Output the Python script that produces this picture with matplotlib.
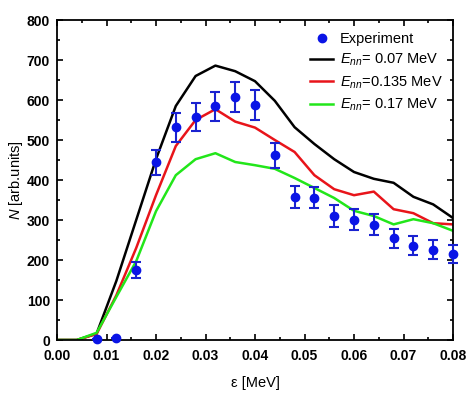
import matplotlib
matplotlib.use("Agg")
import matplotlib.pyplot as plt
from matplotlib.ticker import MultipleLocator, FormatStrFormatter
from matplotlib.lines import Line2D

plt.rcParams['font.family'] = ['Liberation Sans', 'DejaVu Sans']
plt.rcParams['mathtext.fontset'] = 'custom'
plt.rcParams['mathtext.it'] = 'Liberation Sans:italic'
plt.rcParams['mathtext.rm'] = 'Liberation Sans'

# Experimental data
exp_x = [0.008, 0.012, 0.016, 0.020, 0.024, 0.028, 0.032, 0.036, 0.040, 0.044,
         0.048, 0.052, 0.056, 0.060, 0.064, 0.068, 0.072, 0.076, 0.080]
exp_y = [2, 6, 175, 444, 532, 557, 584, 608, 587, 462,
         358, 356, 310, 301, 288, 254, 236, 226, 215]
exp_err = [0, 0, 21, 32, 36, 35, 36, 37, 37, 31,
           28, 27, 27, 27, 26, 23, 24, 23, 23]

# Model curves
model_x = [0.000, 0.004, 0.008, 0.012, 0.016, 0.020, 0.024, 0.028, 0.032, 0.036, 0.040,
           0.044, 0.048, 0.052, 0.056, 0.060, 0.064, 0.068, 0.072, 0.076, 0.080]
enn_007 = [0, 0, 16, 148, 300, 452, 585, 660, 686, 672, 647,
           598, 532, 490, 452, 420, 403, 393, 358, 339, 305]
enn_0135 = [0, 0, 15, 112, 230, 362, 485, 550, 577, 546, 531,
            500, 470, 412, 377, 362, 371, 327, 317, 292, 289]
enn_017 = [0, 0, 18, 108, 197, 322, 412, 452, 467, 445, 437,
           428, 405, 380, 355, 323, 310, 289, 302, 292, 273]

labels = ['Experiment', r'$E_{nn}$= 0.07 MeV', r'$E_{nn}$=0.135 MeV', r'$E_{nn}$= 0.17 MeV']

blue = '#0a14e6'
fig = plt.figure(figsize=(4.74, 3.93), dpi=100)
ax = fig.add_axes([57/474, 53/393, 396/474, 320/393])

ax.errorbar(exp_x, exp_y, yerr=exp_err, fmt='o', color=blue, ms=6,
            ecolor='#1a22d0', elinewidth=1.5, capsize=3.5, capthick=1.5,
            zorder=5, clip_on=False)
l1, = ax.plot(model_x, enn_007, color='black', lw=1.8)
l2, = ax.plot(model_x, enn_0135, color='#e8141a', lw=1.8)
l3, = ax.plot(model_x, enn_017, color='#22e61a', lw=1.8)

ax.set_xlim(0, 0.08)
ax.set_ylim(0, 800)
ax.xaxis.set_major_locator(MultipleLocator(0.01))
ax.xaxis.set_minor_locator(MultipleLocator(0.005))
ax.yaxis.set_major_locator(MultipleLocator(100))
ax.yaxis.set_minor_locator(MultipleLocator(50))
ax.xaxis.set_major_formatter(FormatStrFormatter('%.2f'))

ax.tick_params(which='both', direction='in', top=True, right=True, width=1.2)
ax.tick_params(which='major', length=4, labelsize=10)
ax.tick_params(axis='x', which='major', pad=6.5)
ax.tick_params(axis='y', which='major', pad=5)
ax.tick_params(which='minor', length=2.5)
for lab in ax.get_xticklabels() + ax.get_yticklabels():
    lab.set_fontweight('bold')
for s in ax.spines.values():
    s.set_linewidth(1.3)

ax.set_xlabel('ε [MeV]', fontsize=10.5, labelpad=9)
ax.set_ylabel(r'$N$ [arb.units]', fontsize=10.5, labelpad=1)

exp_handle = Line2D([], [], marker='o', ls='none', color=blue, ms=6)
leg = ax.legend([exp_handle, l1, l2, l3], labels, loc='upper right',
                frameon=False, fontsize=10.5, handlelength=1.6, handletextpad=0.45,
                labelspacing=0.42, borderaxespad=0.3, bbox_to_anchor=(1.0, 0.995))

fig.savefig('out.png', dpi=100)
